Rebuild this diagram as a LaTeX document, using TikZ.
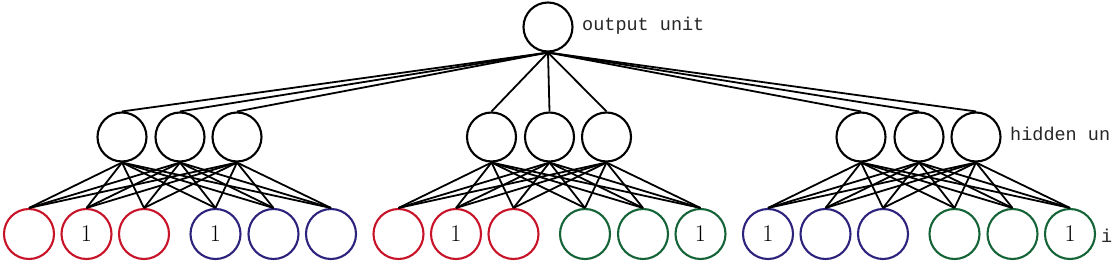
\documentclass[tikz,border=0pt]{standalone}
\usepackage{fontspec}
\setmonofont{Liberation Mono}
\definecolor{unitred}{RGB}{200,20,40}
\definecolor{unitblue}{RGB}{45,35,125}
\definecolor{unitgreen}{RGB}{20,100,55}

\begin{document}
\begin{tikzpicture}[x=1pt, y=-1pt,
  unit/.style={circle, draw, line width=2.1pt, minimum size=50pt,
               inner sep=0pt, font=\fontsize{24}{26}\selectfont},
  hid/.style={circle, draw, line width=2.1pt, minimum size=49pt, inner sep=0pt},
  lbl/.style={anchor=base west, inner sep=0pt, text=black!85,
              font=\ttfamily\fontsize{18.5}{20}\selectfont},
  link/.style={line width=1.8pt}
]
  \useasboundingbox (0,0) rectangle (1112,262);
  \clip (0,0) rectangle (1112,262);

  % output
  \node[hid] (out) at (548,27) {};
  \node[lbl] (outlbl) at (582,31) {output unit};

  % hidden layer
  \node[hid] (ha1) at (122,137) {};
  \node[hid] (ha2) at (180,137) {};
  \node[hid] (ha3) at (237,137) {};
  \node[hid] (hb1) at (491.5,137) {};
  \node[hid] (hb2) at (549.5,137) {};
  \node[hid] (hb3) at (606.5,137) {};
  \node[hid] (hc1) at (861,137) {};
  \node[hid] (hc2) at (919,137) {};
  \node[hid] (hc3) at (976,137) {};
  \node[lbl] (hidlbl) at (1010,140) {hidden un};

  % input layer
  \node[unit, draw=unitred]   (a1) at (29,234)    {};
  \node[unit, draw=unitred]   (a2) at (86.5,234)  {1};
  \node[unit, draw=unitred]   (a3) at (144,234)   {};
  \node[unit, draw=unitblue]  (a4) at (215.5,234) {1};
  \node[unit, draw=unitblue]  (a5) at (273.5,234) {};
  \node[unit, draw=unitblue]  (a6) at (331,234)   {};
  \node[unit, draw=unitred]   (b1) at (398.5,234) {};
  \node[unit, draw=unitred]   (b2) at (456,234)   {1};
  \node[unit, draw=unitred]   (b3) at (513.5,234) {};
  \node[unit, draw=unitgreen] (b4) at (585,234)   {};
  \node[unit, draw=unitgreen] (b5) at (643,234)   {};
  \node[unit, draw=unitgreen] (b6) at (700.5,234) {1};
  \node[unit, draw=unitblue]  (c1) at (768,234)   {1};
  \node[unit, draw=unitblue]  (c2) at (825.5,234) {};
  \node[unit, draw=unitblue]  (c3) at (883,234)   {};
  \node[unit, draw=unitgreen] (c4) at (954.5,234) {};
  \node[unit, draw=unitgreen] (c5) at (1012.5,234) {};
  \node[unit, draw=unitgreen] (c6) at (1070,234)  {1};
  \node[lbl] (inlbl) at (1101,242) {i};

  % connections
  \foreach \g in {a,b,c} {
    \foreach \h in {1,2,3} {
      \draw[link] (out.south) -- (h\g\h.north);
      \foreach \i in {1,...,6}
        \draw[link] (h\g\h.south) -- (\g\i.north);
    }
  }
\end{tikzpicture}
\end{document}
